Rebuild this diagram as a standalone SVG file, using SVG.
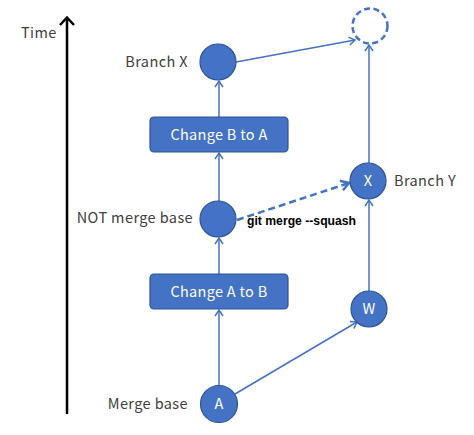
<svg xmlns="http://www.w3.org/2000/svg" width="474" height="435" viewBox="0 0 474 435">
<style>
.node{fill:#4472C4;stroke:#2F5597;stroke-width:1.2}
.lbl{font-family:"Noto Sans CJK JP","Noto Sans",sans-serif;font-size:14.5px;letter-spacing:0.4px;fill:#404040}
.in{font-family:"Noto Sans CJK JP","Noto Sans",sans-serif;font-size:14.5px;letter-spacing:0.3px;fill:#ffffff;text-anchor:middle}
.c{stroke:#4472C4;stroke-width:1.5;fill:none;marker-end:url(#ah)}
</style>
<defs>
<marker id="ah" markerWidth="10" markerHeight="10" refX="8" refY="5" orient="auto" markerUnits="userSpaceOnUse">
<path d="M2,1 L8,5 L2,9" fill="none" stroke="#4472C4" stroke-width="1.5"/>
</marker>
<marker id="ahd" markerWidth="14" markerHeight="14" refX="11" refY="7" orient="auto" markerUnits="userSpaceOnUse">
<path d="M3,2 L11,7 L3,12" fill="none" stroke="#4472C4" stroke-width="2.5"/>
</marker>
</defs>
<g id="time-axis">
<line x1="67" y1="414" x2="67" y2="18" stroke="#000" stroke-width="2.5"/>
<path d="M60,25 L67,17.5 L74,25" fill="none" stroke="#000" stroke-width="2.5"/>
<text class="lbl" x="21" y="38">Time</text>
</g>
<g id="connectors">
<line class="c" x1="219" y1="385" x2="219" y2="310"/>
<line class="c" x1="219" y1="274" x2="219" y2="238"/>
<line class="c" x1="219" y1="201" x2="219" y2="153"/>
<line class="c" x1="219" y1="117" x2="219" y2="81"/>
<line class="c" x1="236" y1="62" x2="355" y2="40"/>
<line class="c" x1="235" y1="394" x2="357" y2="322"/>
<line class="c" x1="369" y1="291" x2="369" y2="200"/>
<line class="c" x1="369" y1="163" x2="369" y2="45"/>
<line x1="237" y1="220" x2="349" y2="183" stroke="#4472C4" stroke-width="2.5" stroke-dasharray="7,4" fill="none" marker-end="url(#ahd)"/>
<text x="247" y="225" font-family="Liberation Sans,Arial,sans-serif" font-size="12.2" font-weight="bold" fill="#000">git merge --squash</text>
</g>
<g id="merge-result">
<circle cx="370" cy="26" r="17.5" fill="#fff" stroke="#4472C4" stroke-width="2.5" stroke-dasharray="6,3.5"/>
</g>
<g id="branch-x">
<circle class="node" cx="218" cy="62" r="18"/>
<text class="lbl" x="188" y="67" text-anchor="end">Branch X</text>
</g>
<g id="change-b-to-a">
<rect class="node" x="150" y="117" width="138" height="35" rx="4"/>
<text class="in" x="219" y="139.5">Change B to A</text>
</g>
<g id="not-merge-base">
<circle class="node" cx="218" cy="219" r="18"/>
<text class="lbl" x="193" y="223" text-anchor="end">NOT merge base</text>
</g>
<g id="change-a-to-b">
<rect class="node" x="150" y="274" width="138" height="35" rx="4"/>
<text class="in" x="219" y="296.5">Change A to B</text>
</g>
<g id="merge-base">
<circle class="node" cx="219" cy="404" r="18.5"/>
<text class="in" x="219" y="409">A</text>
<text class="lbl" x="188" y="409" text-anchor="end">Merge base</text>
</g>
<g id="commit-w">
<circle class="node" cx="369" cy="309" r="18"/>
<text class="in" x="369" y="314">W</text>
</g>
<g id="branch-y">
<circle class="node" cx="368" cy="181" r="18"/>
<text class="in" x="368" y="186">X</text>
<text class="lbl" x="394" y="186">Branch Y</text>
</g>
</svg>
